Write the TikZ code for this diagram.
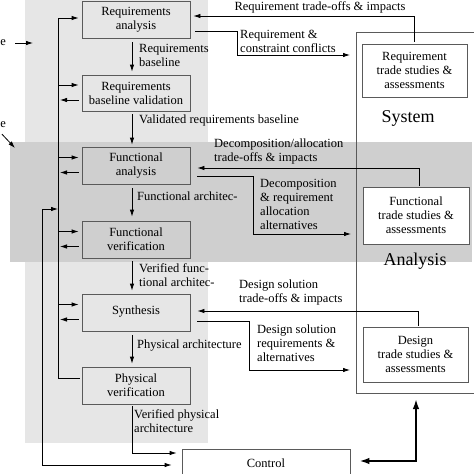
\documentclass[tikz,border=0pt]{standalone}
\usepackage{fontspec}
\setmainfont{Liberation Serif}
\usetikzlibrary{arrows.meta,calc}
\definecolor{bglight}{HTML}{E6E6E6}
\definecolor{bgdark}{HTML}{CFCFCF}
\definecolor{boxline}{HTML}{5A5A5A}
\tikzset{
  txt/.style={font=\fontsize{12.5}{14}\selectfont, inner sep=0pt, align=left, anchor=west},
  proc/.style={draw=boxline, line width=0.8pt, minimum width=108pt, minimum height=37pt, inner sep=0pt, align=center, font=\fontsize{12.5}{14}\selectfont},
  tsbox/.style={draw=boxline, line width=0.8pt, fill=white, minimum width=105pt, inner sep=0pt, align=center, font=\fontsize{12.5}{14}\selectfont},
  arr/.style={-{Latex[length=7pt,width=4.5pt]}, line width=0.8pt},
  plain/.style={line width=0.8pt},
  bigarr/.style={{Latex[length=10pt,width=6.5pt]}-{Latex[length=10pt,width=6.5pt]}, line width=1.8pt},
  big/.style={font=\fontsize{18}{20}\selectfont, inner sep=0pt}
}
\begin{document}
\begin{tikzpicture}[x=1pt,y=-1pt]
\useasboundingbox (0,0) rectangle (474,474);
% backgrounds
\fill[bglight] (25,0) rectangle (208,443);
\fill[bgdark] (10,142) rectangle (472,262);
% system outline
\draw[boxline, line width=0.8pt] (476,32) -- (356,32) -- (356,393) -- (476,393);
% process boxes
\node[proc] (ra) at (136,19.5) {Requirements\\analysis};
\node[proc, minimum height=36pt] (rbv) at (136,93) {Requirements\\baseline validation};
\node[proc] (fa) at (136,165.5) {Functional\\analysis};
\node[proc] (fv) at (136,239.5) {Functional\\verification};
\node[proc] (syn) at (136,312.5) {\raisebox{5.5pt}{Synthesis}};
\node[proc] (pv) at (136,385.5) {Physical\\verification};
\node[proc, minimum width=168pt, minimum height=32pt, fill=white] (ctl) at (266,465) {\raisebox{3pt}{Control}};
% trade study boxes
\node[tsbox, minimum height=53pt] (rts) at (414.5,70.5) {Requirement\\trade studies \&\\assessments};
\node[tsbox, minimum width=106pt, minimum height=57pt] (fts) at (416,215.5) {Functional\\trade studies \&\\assessments};
\node[tsbox, minimum height=55pt] (dts) at (415.5,354.5) {Design\\trade studies \&\\assessments};
\node[big] (sys) at (408,118) {System};
\node[big] (ana) at (415,261) {Analysis};
% vertical flow
\coordinate (ax) at (132,0);
\draw[arr, shorten <=4pt, shorten >=3pt] (ra.south -| ax) -- (rbv.north -| ax);
\draw[arr, shorten <=3pt, shorten >=2pt] (rbv.south -| ax) -- (fa.north -| ax);
\draw[arr, shorten <=4pt, shorten >=4pt] (fa.south -| ax) -- (fv.north -| ax);
\draw[arr, shorten <=3pt, shorten >=3pt] (fv.south -| ax) -- (syn.north -| ax);
\draw[arr, shorten <=4pt, shorten >=3pt] (syn.south -| ax) -- (pv.north -| ax);
\node[txt] (l1) at (139,55) {Requirements\\baseline};
\node[txt] (l2) at (139,120) {Validated requirements baseline};
\node[txt] (l3) at (137,196) {Functional architec-};
\node[txt] (l4) at (139,275) {Verified func-\\tional architec-};
\node[txt] (l5) at (137,346) {Physical architecture};
\node[txt] (l6) at (134,421) {Verified physical\\architecture};
% feedback line
\coordinate (fbT) at (58,18);
\coordinate (fbB) at (58,378);
\draw[arr, shorten <=2pt, shorten >=3pt] (pv.west |- fbB) -- (fbB) -- (fbT) -- (ra.west |- fbT);
\foreach \b in {rbv,fa,fv,syn}{
  \draw[arr, shorten >=3pt] ($(fbT |- \b.west)+(0,-8)$) -- ($(\b.west)+(0,-8)$);
  \draw[arr, shorten <=3pt, shorten >=2pt] ($(\b.west)+(0,7)$) -- ($(fbT |- \b.west)+(0,7)$);
}
% control loop
\coordinate (c1) at (42,209);
\coordinate (c2) at (42,465);
\draw[{Latex[length=7pt,width=4.5pt]}-{Latex[length=7pt,width=4.5pt]}, line width=0.8pt, shorten >=10pt] (fbT |- c1) -- (c1) -- (c2) -- (ctl.west |- c2);
\coordinate (c3) at (132,453);
\draw[arr, shorten <=2pt, shorten >=5pt] (pv.south -| ax) -- (c3) -- (ctl.west |- c3);
% requirement trade-offs
\coordinate (r1) at (414,16);
\draw[arr, shorten <=2pt, shorten >=3pt] (rts.north -| r1) -- (r1) -- (ra.east |- r1);
\node[txt, anchor=center] (l7) at (320,7) {Requirement trade-offs \& impacts};
\coordinate (r2) at (237,31);
\coordinate (r3) at (237,55);
\coordinate (sysL) at (356,0);
\draw[arr, shorten <=5pt, shorten >=6pt] (ra.east |- r2) -- (r2) -- (r3) -- (sysL |- r3);
\node[txt] (l8) at (240,41.5) {Requirement \&\\constraint conflicts};
% functional trade-offs
\coordinate (f1) at (419,168);
\draw[arr, shorten <=1pt, shorten >=7pt] (fts.north -| f1) -- (f1) -- (fa.east |- f1);
\node[txt] (l9) at (214,151) {Decomposition/allocation\\trade-offs \& impacts};
\coordinate (f2) at (253,176);
\coordinate (f3) at (253,234);
\draw[arr, shorten <=7pt, shorten >=5pt] (fa.east |- f2) -- (f2) -- (f3) -- (sysL |- f3);
\node[txt] (l10) at (260,204.5) {Decomposition\\\& requirement\\allocation\\alternatives};
% design trade-offs
\coordinate (d1) at (418,311);
\draw[arr, shorten <=1pt, shorten >=7pt] (dts.north -| d1) -- (d1) -- (syn.east |- d1);
\node[txt] (l11) at (239,292.5) {Design solution\\trade-offs \& impacts};
\coordinate (d2) at (249,321);
\coordinate (d3) at (249,370);
\draw[arr, shorten <=7pt, shorten >=6pt] (syn.east |- d2) -- (d2) -- (d3) -- (sysL |- d3);
\node[txt] (l12) at (257,343) {Design solution\\requirements \&\\alternatives};
% control <-> design trade
\coordinate (k1) at (416,399);
\coordinate (k2) at (416,461);
\draw[bigarr, shorten >=9pt] (k1) -- (k2) -- (ctl.east |- k2);
% margin marks
\node[txt, anchor=east] (m1) at (6,43) {e};
\draw[arr] ($(m1.east)+(9,0)$) -- (33,43);
\node[txt, anchor=east] (m2) at (6,125) {e};
\draw[arr] ($(m2.south east)+(-4,6)$) -- (15,148);
\end{tikzpicture}
\end{document}
